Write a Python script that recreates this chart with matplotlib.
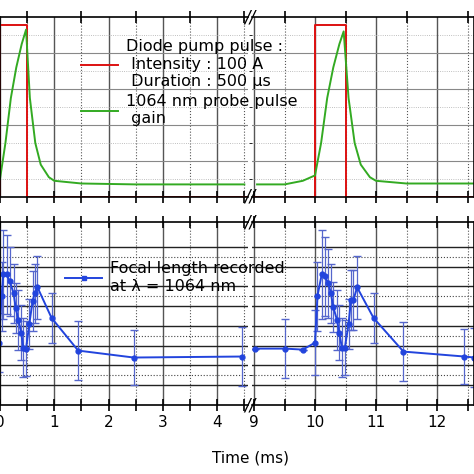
import numpy as np
import matplotlib
matplotlib.use("Agg")
import matplotlib.pyplot as plt
from matplotlib.lines import Line2D

# pump pulse (normalised)
pump_t1 = [-0.1, 0.0, 0.0, 0.5, 0.5, 4.9]
pump_v1 = [0.0, 0.0, 0.955, 0.955, 0.0, 0.0]
pump_t2 = [8.9, 10.0, 10.0, 10.5, 10.5, 12.7]
pump_v2 = [0.0, 0.0, 0.955, 0.955, 0.0, 0.0]
# probe gain (normalised)
gain_t1 = [-0.05, 0.0, 0.1, 0.2, 0.3, 0.4, 0.48, 0.55, 0.65, 0.75, 0.9, 1.0, 1.5, 2.5, 4.5]
gain_v1 = [0.08, 0.1, 0.3, 0.55, 0.72, 0.85, 0.93, 0.55, 0.3, 0.18, 0.11, 0.09, 0.075, 0.07, 0.07]
gain_t2 = [9.05, 9.5, 9.8, 10.0, 10.1, 10.2, 10.3, 10.4, 10.47, 10.55, 10.65, 10.75, 10.9, 11.0, 11.5, 12.7]
gain_v2 = [0.07, 0.07, 0.09, 0.12, 0.3, 0.55, 0.72, 0.85, 0.92, 0.55, 0.3, 0.18, 0.11, 0.09, 0.075, 0.075]

# focal length (arbitrary units)
foc_t1 = [-0.02, 0.03, 0.06, 0.12, 0.18, 0.25, 0.29, 0.34, 0.39, 0.43, 0.48, 0.54, 0.6, 0.64, 0.69, 0.95, 1.44, 2.46, 4.46]
foc_v1 = [63, 110, 132, 132, 125, 113, 98, 86, 73, 58, 57, 82, 105, 113, 119, 88, 55, 48, 49]
foc_e1 = [30, 35, 45, 40, 35, 30, 25, 30, 28, 30, 28, 25, 30, 30, 32, 25, 30, 28, 30]
foc_t2 = [9.02, 9.51, 9.80, 10.0, 10.04, 10.11, 10.16, 10.22, 10.26, 10.30, 10.36, 10.40, 10.44, 10.49, 10.55, 10.59, 10.63, 10.69, 10.96, 11.45, 12.45, 12.61]
foc_v2 = [57, 57, 56, 63, 110, 132, 130, 123, 113, 99, 86, 73, 58, 58, 82, 106, 106, 119, 88, 54, 49, 48]
foc_e2 = [0, 30, 0, 33, 35, 45, 40, 35, 30, 25, 30, 28, 30, 28, 25, 30, 30, 32, 25, 30, 28, 30]

xticks1 = [0, 1, 2, 3, 4]
xticks2 = [9, 10, 11, 12, 13]

fig = plt.figure(figsize=(4.74, 4.74), dpi=100)
W, H = 474, 474
def ax_at(x0, y0, x1, y1):
    return fig.add_axes([x0 / W, 1 - y1 / H, (x1 - x0) / W, (y1 - y0) / H])

blue = '#2244dd'
axes = {}
for row, (yt, yb) in enumerate([(17, 197), (222, 405)]):
    a1 = ax_at(0, yt, 248, yb)
    a2 = ax_at(252, yt, 474, yb)
    for a, tk in ((a1, xticks1), (a2, xticks2)):
        a.set_xticks(tk)
        a.set_xticks(np.arange(tk[0] - 0.5, tk[-1] + 0.6, 0.5), minor=True)
        a.tick_params(axis='x', which='both', direction='inout', length=8, width=1.2, top=True)
        a.tick_params(axis='y', left=False, labelleft=False, right=False)
        a.grid(True, which='major', axis='x', color='#555', lw=1)
        a.grid(True, which='minor', axis='x', color='#555', lw=0.8, ls=':')
        if row == 0:
            a.tick_params(axis='x', labelbottom=False, top=False)
        else:
            a.tick_params(axis='x', labelsize=11)
        for s in a.spines.values():
            s.set_linewidth(1.2)
    a1.spines['right'].set_visible(False)
    a2.spines['left'].set_visible(False)
    axes[row] = (a1, a2)

t1, t2 = axes[0]
for a in (t1, t2):
    a.set_yticks([0.2, 0.4, 0.6, 0.8])
    a.set_yticks([0.1, 0.3, 0.5, 0.7, 0.9], minor=True)
    a.grid(True, which='major', axis='y', color='#888', lw=0.8)
    a.grid(True, which='minor', axis='y', color='#aaa', lw=0.6, ls=':')
t1.plot(pump_t1, pump_v1, color='#dd1111', lw=1.4)
t2.plot(pump_t2, pump_v2, color='#dd1111', lw=1.4)
t1.plot(gain_t1, gain_v1, color='#33aa22', lw=1.4)
t2.plot(gain_t2, gain_v2, color='#33aa22', lw=1.4)

b1, b2 = axes[1]
for a in (b1, b2):
    a.set_yticks([20, 40, 60, 80, 100, 120, 140, 160])
    a.set_yticks([30, 70, 110, 150], minor=True)
    a.grid(True, which='major', axis='y', color='#222', lw=1)
    a.grid(True, which='minor', axis='y', color='#444', lw=0.8, ls=':')
b1.errorbar(foc_t1, foc_v1, yerr=foc_e1, color=blue, marker='o', ms=3.5, lw=1.4,
            ecolor='#5566cc', elinewidth=0.9, capsize=3)
b2.errorbar(foc_t2, foc_v2, yerr=foc_e2, color=blue, marker='o', ms=3.5, lw=1.4,
            ecolor='#5566cc', elinewidth=0.9, capsize=3)

for row in (0, 1):
    a1, a2 = axes[row]
    a1.set_xlim(0, 248 / 54.3)
    a2.set_xlim(10 - 63 / 61.0, 10 + 159 / 61.0)
    for a in (a1, a2):
        a.set_ylim((0, 1) if row == 0 else (0, 185))

# break marks
for yy in (17, 197, 222, 405):
    fig.text(250 / W, 1 - yy / H, '//', ha='center', va='center', fontsize=12, style='italic')

fig.text(250 / W, 1 - 458 / H, 'Time (ms)', ha='center', va='center', fontsize=11)

h1 = [Line2D([], [], color='#dd1111', lw=1.4), Line2D([], [], color='#33aa22', lw=1.4)]
fig.legend(h1, ['Diode pump pulse :\n Intensity : 100 A\n Duration : 500 µs',
                '1064 nm probe pulse\n gain'],
           loc='upper left', bbox_to_anchor=(67 / W, 1 - 25 / H), frameon=False,
           fontsize=11.5, handlelength=2.3, labelspacing=0.3, handletextpad=0.5)
h2 = [Line2D([], [], color=blue, lw=1.4, marker='s', ms=2.5)]
fig.legend(h2, ['Focal length recorded\nat λ = 1064 nm'],
           loc='upper left', bbox_to_anchor=(51 / W, 1 - 247 / H), frameon=False,
           fontsize=11.5, handlelength=2.3, handletextpad=0.5)

fig.savefig('out.png', dpi=100)
